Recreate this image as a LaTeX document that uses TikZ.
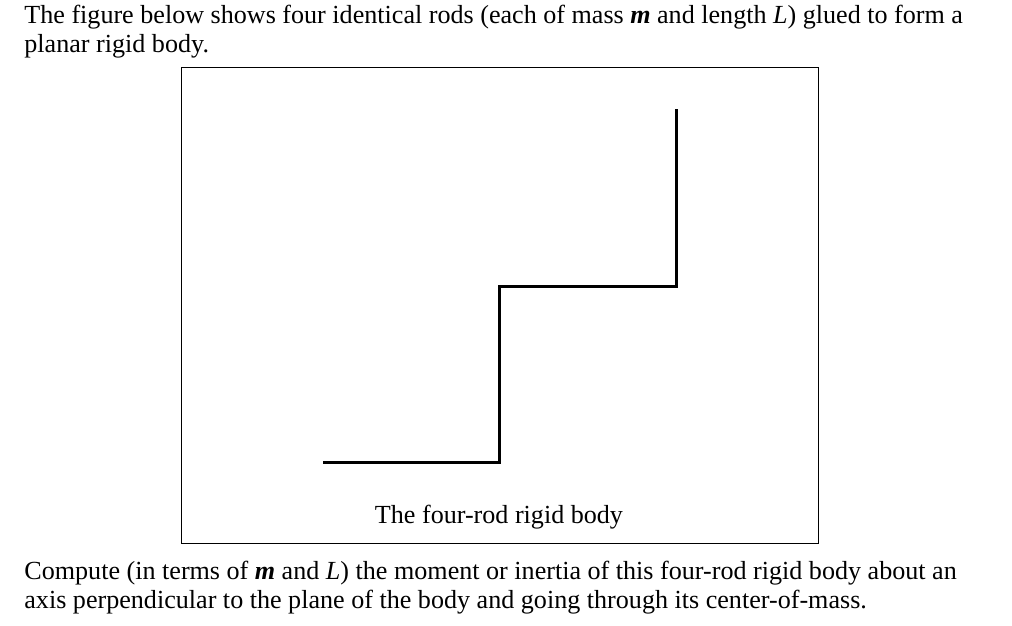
\documentclass[tikz,border=0pt]{standalone}
\usepackage{fontspec}
\setmainfont{Liberation Serif}
\begin{document}
\begin{tikzpicture}[x=0.5pt,y=-0.5pt,
  txt/.style={anchor=base west,inner sep=0,font=\fontsize{13.05}{15}\selectfont},
  rod/.style={line width=1.5pt}]
\useasboundingbox (0,0) rectangle (1012,626);
\node[txt] (t1) at (24,24) {The figure below shows four identical rods (each of mass \textbf{\textit{m}} and length \textit{L}) glued to form a};
\node[txt] (t2) at (24,53) {planar rigid body.};
\node[draw,line width=0.5pt,minimum width=318.5pt,minimum height=237.5pt,inner sep=0] (box) at (499.5,305.5) {};
\coordinate (a) at (323,462);
\coordinate (b) at (499,462);
\coordinate (c) at (499,286);
\coordinate (d) at (676,286);
\coordinate (e) at (676,109);
\draw[rod] (a) -- (b) -- (c) -- (d) -- (e);
\node[txt,anchor=base] (cap) at (499,523) {The four-rod rigid body};
\node[txt] (b1) at (24,579) {Compute (in terms of \textbf{\textit{m}} and \textit{L}) the moment or inertia of this four-rod rigid body about an};
\node[txt] (b2) at (24,608) {axis perpendicular to the plane of the body and going through its center-of-mass.};
\end{tikzpicture}
\end{document}
